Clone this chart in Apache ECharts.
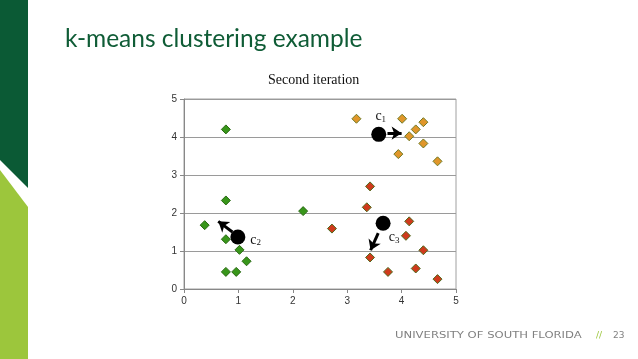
<!DOCTYPE html>
<html><head><meta charset="utf-8">
<script src="https://cdn.jsdelivr.net/npm/echarts@6/dist/echarts.min.js"></script>
<style>html,body{margin:0;padding:0;background:#fff}#c{width:638px;height:359px}</style>
</head><body><div id="c"></div>
<script>
// Cluster 1 (orange)
const cluster1 = [[3.17,4.48],[4.01,4.48],[4.40,4.39],[4.26,4.20],[4.14,4.02],[4.40,3.83],[3.94,3.55],[4.66,3.36]];
// Cluster 2 (green)
const cluster2 = [[0.77,4.20],[0.77,2.33],[2.19,2.05],[0.38,1.68],[0.77,1.31],[1.02,1.03],[1.15,0.73],[0.77,0.45],[0.96,0.45]];
// Cluster 3 (red)
const cluster3 = [[3.42,2.70],[3.36,2.15],[2.72,1.59],[4.14,1.78],[4.08,1.40],[4.40,1.02],[3.42,0.83],[3.75,0.45],[4.26,0.54],[4.66,0.26]];
// Centroids
const centroids = [[3.58,4.07],[0.99,1.37],[3.66,1.73]];
const centroidNames = ['1','2','3'];
// Arrows (tail -> head)
const arrows = [[[3.74,4.10],[4.00,4.10]],[[0.89,1.50],[0.63,1.78]],[[3.57,1.47],[3.43,1.02]]];
const ticks = [0,1,2,3,4,5];

const chart = echarts.init(document.getElementById('c'), null, {renderer:'canvas'});
const labelPos = ['top','right','bottom'];
const labelOff = [[2,2],[0,3],[11,-6]];
const dia = (color, border) => ({type:'scatter', symbol:'diamond', symbolSize:9, itemStyle:{color:color, borderColor:border, borderWidth:1, opacity:1}, z:3});
chart.setOption({
  animation:false,
  backgroundColor:'#ffffff',
  grid:{left:184, right:182, top:99, bottom:70, show:true, borderColor:'#a0a0a0', borderWidth:1},
  xAxis:{type:'value', min:0, max:5, interval:1,
    axisLine:{show:true, onZero:false, lineStyle:{color:'#888'}},
    axisTick:{show:true, length:4, lineStyle:{color:'#888'}},
    axisLabel:{color:'#333', fontFamily:'Liberation Sans', fontSize:10, margin:7, formatter:v=>ticks.includes(v)?String(v):''},
    splitLine:{show:false}},
  yAxis:{type:'value', min:0, max:5, interval:1,
    axisLine:{show:true, lineStyle:{color:'#888'}},
    axisTick:{show:true, length:4, lineStyle:{color:'#888'}},
    axisLabel:{color:'#333', fontFamily:'Liberation Sans', fontSize:10, margin:7},
    splitLine:{show:true, lineStyle:{color:'#9a9a9a', width:1}}},
  series:[
    Object.assign(dia('#e0962a','#6f7a24'), {data:cluster1}),
    Object.assign(dia('#38961a','#2a6a14'), {data:cluster2}),
    Object.assign(dia('#cf3a1c','#4f6a1c'), {data:cluster3}),
    {type:'lines', coordinateSystem:'cartesian2d', polyline:false, z:4,
      symbol:['none','arrow'], symbolSize:10,
      lineStyle:{color:'#000', width:3, opacity:1},
      data:arrows.map(a=>({coords:a}))},
    {type:'scatter', symbol:'circle', symbolSize:15, z:5, itemStyle:{color:'#000', opacity:1},
      data:centroids.map((c,i)=>({value:c, label:{show:true, position:labelPos[i], offset:labelOff[i],
        formatter:'{c|c}{s|'+centroidNames[i]+'}',
        rich:{c:{fontFamily:'Liberation Serif', fontSize:14, color:'#111'}, s:{fontFamily:'Liberation Serif', fontSize:9, color:'#111', verticalAlign:'bottom', padding:[6,0,0,0]}}}}))}
  ],
  graphic:[
    {type:'polygon', shape:{points:[[0,0],[28,0],[28,188],[0,160]]}, style:{fill:'#0b5a35'}},
    {type:'polygon', shape:{points:[[0,170],[28,207],[28,359],[0,359]]}, style:{fill:'#9cc63c'}},
    {type:'text', left:65, top:27, style:{text:'k-means clustering example', fill:'#0f5c36', font:'24.5px Lato'}},
    {type:'text', left:268, top:73, style:{text:'Second iteration', fill:'#111', font:'14px "Liberation Serif"'}},
    {type:'text', x:395, y:331, scaleX:1.29, style:{text:'UNIVERSITY OF SOUTH FLORIDA', fill:'#808080', font:'9px "DejaVu Sans"', textVerticalAlign:'top'}},
    {type:'text', x:596, y:331, style:{text:'//', fill:'#9cc63c', font:'9px "DejaVu Sans"', textVerticalAlign:'top'}},
    {type:'text', x:613, y:331, style:{text:'23', fill:'#808080', font:'9px "DejaVu Sans"', textVerticalAlign:'top'}}
  ]
});
</script></body></html>
